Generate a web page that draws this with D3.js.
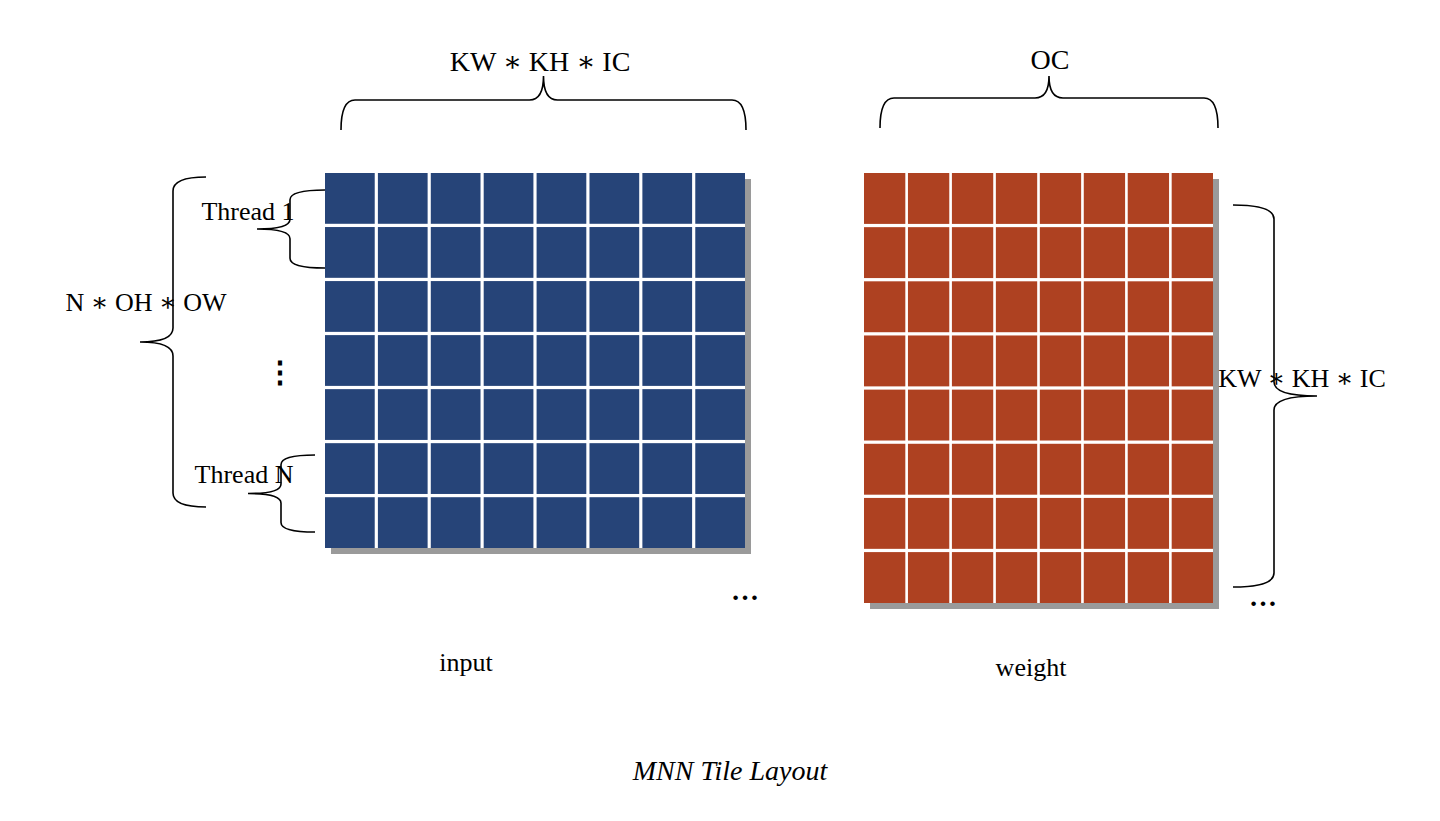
<!DOCTYPE html>
<html><head><meta charset="utf-8">
<script src="https://cdn.jsdelivr.net/npm/d3@7"></script>
<style>body{margin:0;background:#fff}text{font-family:"Liberation Serif","DejaVu Serif",serif;fill:#000}</style>
</head><body><svg id="c" width="1440" height="821"></svg>
<script>
// tile grid data
var inputRows = d3.range(7);
var inputCols = d3.range(8);
var weightRows = d3.range(8);
var weightCols = d3.range(8);
var labels = {top1: "KW  ∗ KH  ∗ IC", top2: "OC", left: "N ∗ OH ∗ OW", right: "KW  ∗ KH  ∗ IC",
    t1: "Thread 1", tn: "Thread N", input: "input", weight: "weight", title: "MNN Tile Layout"};

var svg = d3.select("#c");

function grid(x0, x1, y0, y1, rows, cols, color) {
    var g = svg.append("g");
    var x = d3.scaleBand().domain(cols).range([x0, x1]).paddingInner(0.06);
    var y = d3.scaleBand().domain(rows).range([y0, y1]).paddingInner(0.06);
    g.append("rect").attr("x", x0 + 6).attr("y", y0 + 6)
        .attr("width", x1 - x0).attr("height", y1 - y0).attr("fill", "#9a9a9a");
    g.append("rect").attr("x", x0).attr("y", y0)
        .attr("width", x1 - x0).attr("height", y1 - y0).attr("fill", "#fff");
    rows.forEach(function(r) {
        g.selectAll(null).data(cols).enter().append("rect")
            .attr("x", function(c) { return x(c); }).attr("y", y(r))
            .attr("width", x.bandwidth()).attr("height", y.bandwidth())
            .attr("fill", color);
    });
}
grid(325, 745, 173, 548, inputRows, inputCols, "#264478");
grid(864, 1213, 173, 603, weightRows, weightCols, "#ae4121");

// brace: local frame, arms at y=0 from x=0..L, spine at -h, tip at -t
function brace(L, h, t) {
    var r = Math.min(14, L / 8), m = L / 2;
    return "M0,0 Q0," + (-h) + " " + r + "," + (-h) +
        " L" + (m - r) + "," + (-h) + " Q" + m + "," + (-h) + " " + m + "," + (-t) +
        " Q" + m + "," + (-h) + " " + (m + r) + "," + (-h) +
        " L" + (L - r) + "," + (-h) + " Q" + L + "," + (-h) + " " + L + ",0";
}
function drawBrace(tx, ty, rot, L, h, t) {
    svg.append("path").attr("d", brace(L, h, t))
        .attr("transform", "translate(" + tx + "," + ty + ") rotate(" + rot + ")")
        .attr("fill", "none").attr("stroke", "#000").attr("stroke-width", 1.6);
}
drawBrace(341, 130, 0, 405, 30, 54);
drawBrace(880, 128, 0, 338, 30, 52);
// left braces: rotate -90 => local x goes up; start at bottom
drawBrace(206, 507, -90, 330, 33, 66);
drawBrace(325, 268, -90, 78, 35, 68);
drawBrace(315, 532, -90, 77, 34, 67);
// right brace: rotate 90 => local x goes down
drawBrace(1233, 205, 90, 382, 41, 84);

function txt(x, y, s, size, extra) {
    var t = svg.append("text").attr("x", x).attr("y", y).attr("text-anchor", "middle")
        .attr("font-size", size).text(s);
    if (extra) extra(t);
    return t;
}
txt(540, 71, labels.top1, 28);
txt(1050, 69, labels.top2, 28);
txt(146, 311, labels.left, 26);
txt(248, 220, labels.t1, 26);
txt(244, 483, labels.tn, 26);
txt(1302, 387, labels.right, 26);
txt(280, 382, "⋮", 30, function(t) { t.attr("font-weight", "bold"); });
txt(745, 600, "…", 28, function(t) { t.attr("font-weight", "bold"); });
txt(1263, 606, "…", 28, function(t) { t.attr("font-weight", "bold"); });
txt(466, 671, labels.input, 26);
txt(1031, 676, labels.weight, 26);
txt(730, 780, labels.title, 28, function(t) { t.attr("font-style", "italic"); });
</script></body></html>
